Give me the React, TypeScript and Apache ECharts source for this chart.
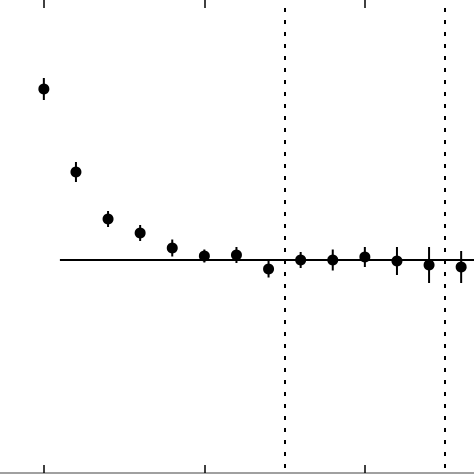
import React, { useEffect, useRef } from "react";
import * as echarts from "echarts";

// x positions of the measurements
const xValues = [1, 2, 3, 4, 5, 6, 7, 8, 9, 10, 11, 12, 13, 14];
// measured values (0 = reference level)
const yValues = [17.1, 8.8, 4.1, 2.7, 1.2, 0.4, 0.5, -0.9, 0, 0, 0.3, -0.1, -0.5, -0.7];
// half-length of the error bars
const yErrors = [1.1, 1.0, 0.8, 0.8, 0.85, 0.65, 0.8, 0.85, 0.8, 1.05, 1.0, 1.4, 1.8, 1.6];
// tick positions on the x axis
const xTicks = [1, 6, 11];
// dashed separators
const dashedX = [8.5, 13.5];
// reference line start
const refLineStart = 1.5;

const X_MIN = -0.366;
const X_MAX = 14.4;
const Y_MIN = -21.3;
const Y_MAX = 26.0;

const App: React.FC = () => {
  const chartRef = useRef<HTMLDivElement>(null);

  useEffect(() => {
    if (!chartRef.current) return;
    const chart = echarts.init(chartRef.current, undefined, { renderer: "svg" });

    const points = xValues.map((x, i) => [x, yValues[i], yErrors[i]]);

    const tickStyle = { show: true, inside: true, length: 8, lineStyle: { color: "#000", width: 1.5 } };

    const option = {
      animation: false,
      grid: { left: 0, right: 0, top: 0, bottom: 1 },
      xAxis: [
        {
          type: "value",
          position: "bottom",
          min: X_MIN,
          max: X_MAX,
          splitLine: { show: false },
          axisLabel: { show: false },
          axisLine: { show: true, onZero: false, lineStyle: { color: "#a0a0a0", width: 2 } },
          axisTick: { ...tickStyle, customValues: xTicks },
        },
        {
          type: "value",
          position: "top",
          min: X_MIN,
          max: X_MAX,
          splitLine: { show: false },
          axisLabel: { show: false },
          axisLine: { show: false, onZero: false },
          axisTick: { ...tickStyle, customValues: xTicks },
        },
      ],
      yAxis: {
        type: "value",
        min: Y_MIN,
        max: Y_MAX,
        show: false,
        splitLine: { show: false },
      },
      series: [
        {
          type: "custom",
          data: points,
          clip: false,
          renderItem: (params: any, api: any) => {
            const x = api.value(0);
            const y = api.value(1);
            const e = api.value(2);
            const lo = api.coord([x, y - e]);
            const hi = api.coord([x, y + e]);
            return {
              type: "line",
              shape: { x1: lo[0], y1: lo[1], x2: hi[0], y2: hi[1] },
              style: { stroke: "#000", lineWidth: 2 },
            };
          },
          z: 2,
        },
        {
          type: "scatter",
          data: points.map((p) => [p[0], p[1]]),
          symbol: "circle",
          symbolSize: 11,
          itemStyle: { color: "#000", opacity: 1 },
          z: 3,
          markLine: {
            silent: true,
            symbol: "none",
            label: { show: false },
            data: [
              [
                { coord: [refLineStart, 0], lineStyle: { color: "#000", width: 2, type: "solid" } },
                { coord: [X_MAX, 0] },
              ],
              ...dashedX.map((dx) => [
                { coord: [dx, Y_MAX - 0.8], lineStyle: { color: "#000", width: 2, type: [4, 8] } },
                { coord: [dx, Y_MIN] },
              ]),
            ],
          },
        },
      ],
    };

    chart.setOption(option as any);
    return () => {
      chart.dispose();
    };
  }, []);

  return (
    <div
      ref={chartRef}
      style={{ position: "fixed", left: 0, top: 0, width: "474px", height: "474px", background: "#fff" }}
    />
  );
};

export default App;
